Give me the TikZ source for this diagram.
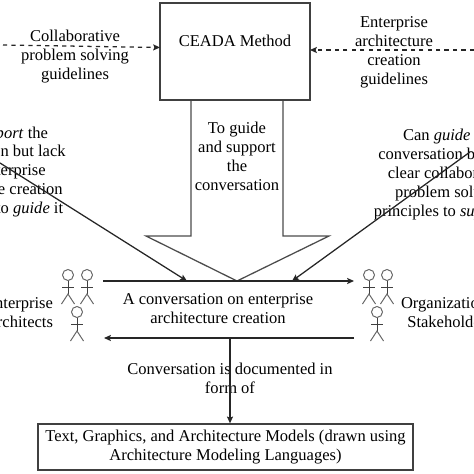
\documentclass[tikz,border=0pt]{standalone}
\usepackage{fontspec}
\setmainfont{Liberation Serif}
\usetikzlibrary{arrows.meta}
\tikzset{
  lbl/.style={font=\fontsize{11.75}{13.5}\selectfont, align=center, inner sep=0pt},
  boxnode/.style={draw=black!75, line width=0.9pt, inner sep=0pt},
  conn/.style={draw=black!85, line width=0.9pt, ->},
  dashconn/.style={conn, dashed},
  actor/.pic={
    \draw[black!60, line width=0.7pt] (0,0) circle (5.5);
    \draw[black!75, line width=0.7pt] (0,5.5) -- (0,19) (-6,12) -- (6,12);
    \draw[black!60, line width=0.7pt] (-6.5,29) -- (0,19) -- (6.5,29);
  }
}
\begin{document}
\begin{tikzpicture}[x=0.025cm, y=-0.025cm, >={Stealth[length=1.7mm, width=1.5mm, inset=0.3mm]}]
  \useasboundingbox (0,0) rectangle (474,474);
  \clip (0,0) rectangle (474,474);
  % large open arrow
  \draw[black!70, line width=0.9pt, fill=white] (191,100) -- (191,236) -- (146,236) -- (237,281) -- (329,236) -- (283,236) -- (283,100);
  % boxes
  \node[boxnode, minimum width=3.75cm, minimum height=2.425cm] (ceada) at (235,51.5) {};
  \node[lbl] (ceadatext) at (235,41) {CEADA Method};
  \node[boxnode, lbl, minimum width=9.375cm, minimum height=1.15cm] (models) at (225.5,447) {Text, Graphics, and Architecture Models (drawn using\\Architecture Modeling Languages)};
  % labels
  \node[lbl] (collab) at (75,56.5) {Collaborative\\problem solving\\guidelines};
  \node[lbl] (eaguide) at (394,52) {Enterprise\\architecture\\creation\\guidelines};
  \node[lbl] (toguide) at (237,156) {To guide\\and support\\the\\conversation};
  \node[lbl] (leftnote) at (-5,172) {Can \textit{support} the\\conversation but lack\\clear enterprise\\architecture creation\\principles to \textit{guide} it};
  \node[lbl] (rightnote) at (449,174.5) {Can \textit{guide} the\\conversation but lack\\clear collaborative\\problem solving\\principles to \textit{support} it};
  \node[lbl] (architects) at (19,312.5) {Enterprise\\Architects};
  \node[lbl] (stakeholders) at (450,312.5) {Organizational\\Stakeholders};
  \node[lbl] (conversation) at (218,308.5) {A conversation on enterprise\\architecture creation};
  \node[lbl] (documented) at (230,378.5) {Conversation is documented in\\form of};
  % people
  \pic at (68,275) {actor};
  \pic at (87,275) {actor};
  \pic at (77,312) {actor};
  \pic at (369,275) {actor};
  \pic at (387,275) {actor};
  \pic at (377,312) {actor};
  % connector ends
  \coordinate (dashleft) at (3,45);
  \coordinate (dashleftend) at (160,47.5);
  \coordinate (dashright) at (474,50);
  \coordinate (dashrightend) at (310,50);
  \coordinate (noteleft) at (0,163);
  \coordinate (noteleftend) at (187,281);
  \coordinate (noteright) at (470,152);
  \coordinate (noterightend) at (292,281);
  \coordinate (topstart) at (103,281);
  \coordinate (topend) at (354,281);
  \coordinate (botstart) at (354,338);
  \coordinate (botend) at (104,338);
  \coordinate (docstart) at (230,338);
  % connectors
  \draw[dashconn] (dashleft) -- (dashleftend);
  \draw[dashconn] (dashright) -- (dashrightend);
  \draw[conn] (noteleft) -- (noteleftend);
  \draw[conn] (noteright) -- (noterightend);
  \draw[conn] (topstart) -- (topend);
  \draw[conn] (botstart) -- (botend);
  \draw[conn] (docstart) -- (docstart |- models.north);
\end{tikzpicture}
\end{document}
